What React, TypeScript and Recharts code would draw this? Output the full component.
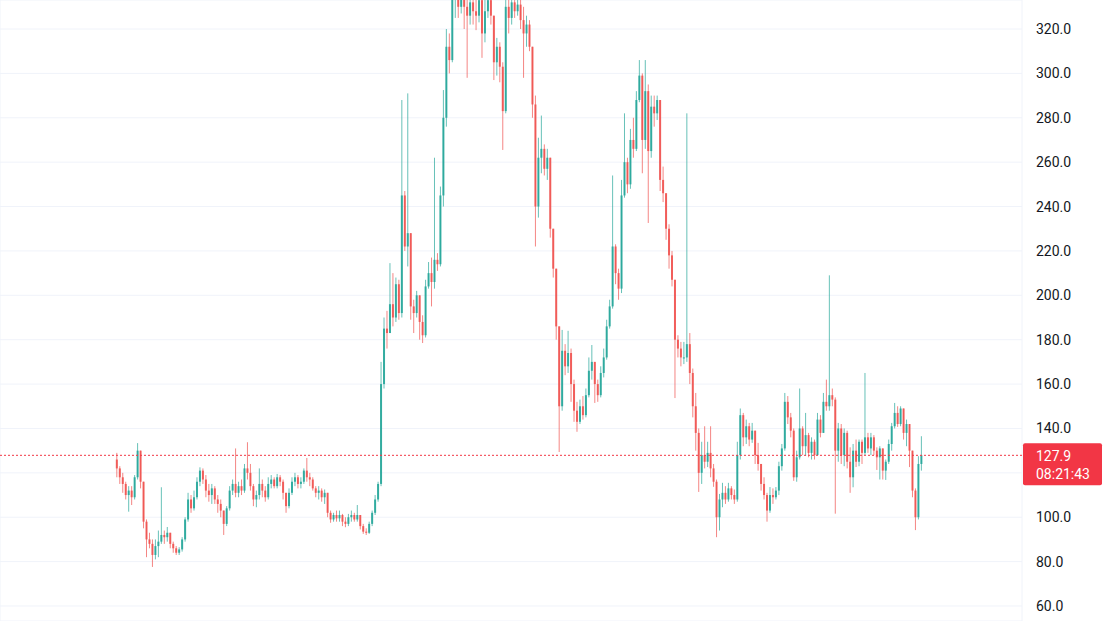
import React from "react";
import { ComposedChart, Bar, XAxis, YAxis, CartesianGrid, ReferenceLine } from "recharts";

const UP = "#26a69a";
const DOWN = "#ef5350";
const FIRST_OPEN = 126;

const closes = [
  122, 118, 115, 110, 112, 109, 118, 130, 116, 98,
  90, 88, 83, 87, 89, 92, 91, 93, 88, 86,
  84, 85.5, 90, 99, 108, 104, 109, 116, 121, 117,
  112, 110, 113, 108, 106, 103, 97, 104, 112, 115,
  111, 114, 112, 122, 120, 114, 108, 110, 115, 112,
  109, 115, 117, 114, 118, 116, 111, 105, 111, 116,
  118, 115, 116, 121, 118, 117, 113, 111, 112, 109,
  111, 102, 99, 101, 99.5, 101, 98, 97, 100, 101,
  99, 101, 96, 93.5, 93, 97, 102, 108, 115, 160,
  185, 183, 196, 190, 205, 192, 245, 222, 228, 195,
  192, 200, 188, 182, 204, 210, 206, 216, 214, 245,
  280, 312, 306, 335, 338, 330, 336, 330, 326, 332,
  328, 326, 333, 318, 328, 333, 326, 305, 312, 303,
  283, 330, 325, 332, 328, 331, 324, 318, 322, 312,
  286, 240, 262, 266, 257, 262, 230, 212, 186, 150,
  175, 168, 174, 160, 148, 143, 150, 146, 155, 166,
  170, 160, 155, 165, 172, 186, 195, 222, 210, 203,
  245, 260, 250, 270, 266, 288, 299, 270, 292, 265,
  285, 282, 288, 252, 246, 230, 218, 207, 180, 176,
  172, 172, 178, 165, 150, 138, 120, 128, 125, 129,
  122, 116, 100, 108, 111, 108, 113, 110, 108, 128,
  146, 136, 141, 135, 139, 128, 124, 115, 110, 103,
  110, 109, 112, 123, 131, 152, 145, 139, 118, 127,
  140, 132, 137, 129, 134, 128, 144, 138, 152, 150,
  155, 153, 130, 140, 128, 138, 125, 118, 130, 125,
  134, 129, 136, 131, 136, 130, 127, 131, 121, 125,
  133, 141, 147, 142, 149, 138, 142, 130, 112, 100,
  124, 127.9,
];

const highs = [
  129, 123, 120, 116, 114, 114, 119, 133.4, 128, 116,
  99, 93, 90, 90, 94, 113.5, 94, 95.6, 93, 89,
  87, 86.5, 91, 100, 111, 110, 112, 118, 122.5, 122,
  119, 115, 115, 114, 110, 108, 103, 105, 114, 117,
  131, 116, 117, 124, 133.8, 124, 115, 112, 122, 117,
  114, 118, 119, 118, 119.5, 119, 117, 111, 113, 118,
  120, 119, 118, 122, 126.7, 120, 118, 114, 114, 113,
  112.5, 111, 103, 102, 103, 103, 101.5, 100, 101.5, 103,
  102, 105.5, 101, 97, 95, 98, 103, 110, 116, 170,
  190, 193, 214.5, 210, 208, 207, 288, 247, 291, 228,
  198, 202, 200, 191, 207, 215, 217, 262, 219, 249,
  292.5, 320, 318, 340, 345, 342, 345, 340, 334, 340,
  338, 334, 340, 335, 334, 342, 336, 326, 316, 314,
  305, 345, 338, 340, 336, 338, 334, 330, 326, 324,
  312, 290, 271, 281, 268, 266, 262, 230, 212, 186,
  184.4, 178, 184, 176, 162, 152, 153, 154.6, 158, 172,
  177.6, 170, 162, 168, 176, 189, 198, 254, 223, 212,
  252, 282, 262, 275, 280, 292, 306, 300, 306, 295,
  290, 290, 290, 288, 258, 246, 232, 220, 207, 182,
  179, 179, 282, 183, 167, 156, 140, 134, 141, 134,
  141, 124, 117, 110.5, 115.5, 114, 115.5, 114, 112.5, 134,
  149, 147, 144, 142.5, 142.5, 139, 133.5, 124, 118, 111,
  113.6, 113, 113.6, 125, 133, 156, 154.6, 147, 140, 130,
  158, 141, 147, 138, 136, 135, 147, 146, 156, 162,
  209, 158, 154, 142.5, 142, 140, 139, 131.5, 133, 135,
  135, 135, 165, 138, 138, 137, 131.5, 132, 131, 126,
  135, 142.5, 151.5, 150, 150, 147, 144, 142, 130, 113,
  127.5, 136.5,
];

const lows = [
  118, 115, 111, 108, 102.5, 105.5, 108, 117, 113, 95,
  82, 86, 77.6, 81, 82, 88, 88, 89, 86, 84,
  83, 83, 84.5, 89, 98, 102, 103, 108, 114, 115,
  109, 107, 106, 106, 102, 100, 92, 96, 103, 110,
  109, 109, 110, 111, 117, 112, 105, 104.5, 108, 109,
  107, 108, 113, 113, 113, 114, 108, 102, 104, 110,
  114, 113, 113, 115, 116, 114, 112, 109, 108, 107,
  106, 100, 97.5, 98, 98, 98, 96, 95.5, 96, 98,
  98, 98, 94.5, 92.5, 92, 92.5, 96, 101, 107, 114,
  158, 176, 184, 186, 188, 189, 190, 220, 213, 189,
  183, 190, 180, 178.5, 181, 203, 195, 203, 211, 213,
  240, 276, 300, 305, 325, 325, 327, 320, 298, 322,
  322, 319.5, 323, 307, 314, 325, 322, 297, 299, 296,
  265.5, 282, 318, 322, 325, 326, 320, 298, 312, 310,
  280, 222, 235, 255, 254, 252, 226, 208, 180, 129.4,
  148, 164, 165, 152, 143, 138.5, 142, 144, 145, 154,
  162, 151.5, 152, 154, 163, 171, 185, 194, 205, 198,
  201, 244, 246, 248, 262, 265, 287, 255, 266, 232.6,
  262, 276, 279, 247, 242, 225, 212, 204, 153.7, 172,
  168, 169, 170, 160, 145, 130, 111.4, 115, 122, 122.6,
  118, 113.7, 91, 94, 104.5, 106, 107, 108, 106, 107,
  126, 132, 133, 132, 133.5, 124, 121, 112, 108, 98,
  102, 106, 108, 110, 121, 130, 142, 136, 116.4, 116,
  126, 128, 127.7, 127, 126, 126, 128, 136, 138, 148,
  148, 150, 101.6, 125, 124, 123, 122, 111, 113.5, 122.6,
  123, 124, 128, 129, 128, 128, 121.3, 117, 117, 116.8,
  124, 130, 140, 140.7, 141, 135, 132, 122.6, 109, 94.2,
  99, 121,
];

const priceTicks = [60, 80, 100, 120, 140, 160, 180, 200, 220, 240, 260, 280, 300, 320];
const timeGridIdx = [-19.5, 20.5, 60.5, 100.5, 140.5, 180.5, 220.5, 260.5, 300.5];
const lastPrice = 127.9;
const countdown = "08:21:43";

const rows = closes.map((close, i) => {
  const open = i === 0 ? FIRST_OPEN : closes[i - 1];
  const high = Math.max(highs[i], open, close);
  const low = Math.min(lows[i], open, close);
  return { i, open, close, high, low, range: [low, high] };
});

const FONT = "Roboto, 'Noto Sans', sans-serif";

const Candle = (props: any) => {
  const { x, y, width, height, payload } = props;
  if (!payload || height == null) return null;
  const { open, close, high, low } = payload;
  const up = close >= open;
  const color = up ? UP : DOWN;
  const ratio = height / (high - low || 1);
  const yOpen = y + (high - open) * ratio;
  const yClose = y + (high - close) * ratio;
  const cx = x + width / 2;
  const top = Math.min(yOpen, yClose);
  const bh = Math.max(1, Math.abs(yOpen - yClose));
  return (
    <g>
      <line x1={cx} x2={cx} y1={y} y2={y + height} stroke={color} strokeWidth={1} strokeOpacity={0.7} />
      <rect x={cx - 1} y={top} width={2} height={bh} fill={color} fillOpacity={0.9} />
    </g>
  );
};

const PriceTick = (props: any) => {
  const v = props.payload?.value;
  if (v == null || Math.abs(v - lastPrice) < 10) return <g />;
  return (
    <text x={props.x} y={props.y} dy={5} fill="#131722" fontSize={14} fontFamily={FONT} textAnchor="start">
      {Number(v).toFixed(1)}
    </text>
  );
};

const PriceTag = (props: any) => {
  const vb = props.viewBox || {};
  const x0 = (vb.x || 0) + (vb.width || 0) + 1;
  const y0 = vb.y || 0;
  return (
    <g>
      <rect x={x0} y={y0 - 12} width={79} height={42} rx={2} fill="#f23645" />
      <text x={x0 + 13} y={y0 + 6} fill="#ffffff" fontSize={14} fontFamily={FONT}>
        {lastPrice.toFixed(1)}
      </text>
      <text x={x0 + 13} y={y0 + 24} fill="#ffffff" fontSize={14} fontFamily={FONT}>
        {countdown}
      </text>
    </g>
  );
};

export default function App() {
  return (
    <div style={{ position: "absolute", left: 0, top: 0, width: 1105, height: 621, background: "#ffffff" }}>
      <ComposedChart width={1105} height={621} data={rows} margin={{ top: 0, right: 0, bottom: 0, left: 0 }}>
        <CartesianGrid stroke="#f0f3fa" vertical={true} horizontal={true} />
        <XAxis
          dataKey="i"
          type="number"
          domain={[-39.4, 304.84]}
          ticks={timeGridIdx}
          allowDataOverflow
          height={0}
          tick={false}
          axisLine={false}
          tickLine={false}
        />
        <YAxis
          orientation="right"
          width={83}
          type="number"
          domain={[53.24, 333.07]}
          ticks={priceTicks}
          allowDataOverflow
          axisLine={false}
          tickLine={false}
          tickMargin={8}
          tick={<PriceTick />}
        />
        <Bar dataKey="range" barSize={3} shape={<Candle />} isAnimationActive={false} />
        <ReferenceLine
          y={lastPrice}
          stroke="#f23645"
          strokeDasharray="2 2"
          strokeWidth={1}
          label={<PriceTag />}
        />
      </ComposedChart>
    </div>
  );
}
